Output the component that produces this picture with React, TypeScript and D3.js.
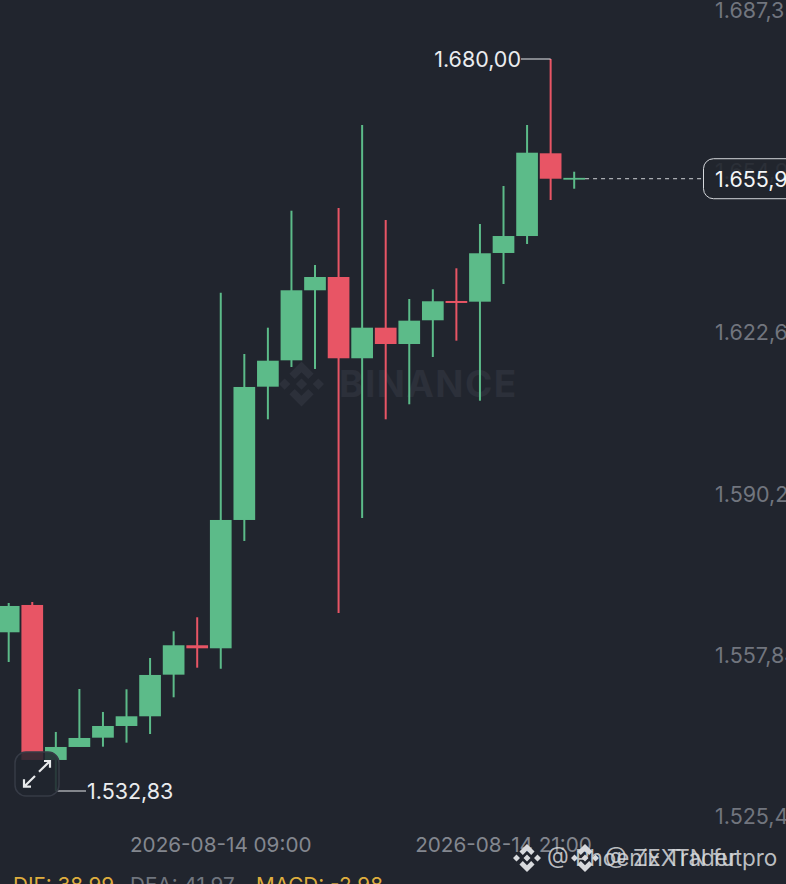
import * as d3 from "d3";
import { useEffect, useRef } from "react";

const opens = [1564.74, 1570.23, 1539.07, 1541.68, 1543.55, 1545.9, 1547.85, 1556.22, 1562.13, 1561.52, 1587.32, 1614.12, 1619.42, 1633.5, 1636.17, 1619.83, 1625.98, 1622.7, 1627.47, 1631.35, 1631.21, 1641.0, 1644.41, 1661.04, 1655.9];
const closes = [1570.03, 1539.07, 1541.68, 1543.49, 1545.9, 1547.85, 1556.16, 1562.13, 1561.52, 1587.32, 1614.06, 1619.34, 1633.5, 1636.17, 1619.83, 1625.98, 1622.7, 1627.39, 1631.29, 1630.95, 1640.94, 1644.41, 1661.16, 1655.93, 1656.1];
const highs = [1570.63, 1570.83, 1544.7, 1553.34, 1548.72, 1553.28, 1559.57, 1564.94, 1567.76, 1633.02, 1620.69, 1625.98, 1649.5, 1638.58, 1650.04, 1666.73, 1647.63, 1631.75, 1633.7, 1637.92, 1646.83, 1654.47, 1666.73, 1680.0, 1657.34];
const lows = [1558.77, 1539.07, 1532.83, 1541.68, 1541.74, 1542.55, 1544.29, 1551.67, 1557.62, 1557.42, 1583.1, 1607.56, 1618.08, 1617.68, 1568.62, 1587.72, 1607.56, 1610.58, 1620.09, 1623.37, 1611.3, 1634.76, 1642.81, 1651.65, 1653.92];
const priceTicks = [1687.35, 1654.97, 1622.6, 1590.22, 1557.84, 1525.46];
const timeLabels = [
  { index: 9, label: "2026-08-14 09:00" },
  { index: 21, label: "2026-08-14 21:00" },
];
const indicators = [
  { label: "DIF: 38,99", color: "#dfae3e", x: 13 },
  { label: "DEA: 41,97", color: "#70757e", x: 130 },
  { label: "MACD: -2,98", color: "#dfae3e", x: 256 },
];
const authors = [
  { x: 527, label: "@ Phoenix Trader" },
  { x: 585, label: "@ ZEXTN futpro" },
];
const highestPrice = 1680.0;
const lowestPrice = 1532.83;
const lastPrice = 1655.93;

const BG = "#21252e";
const UP = "#5cbb89";
const DOWN = "#e85565";
const FONT = "Inter, 'Noto Sans', sans-serif";
const fmt = d3.formatLocale({ decimal: ",", thousands: ".", grouping: [3], currency: ["", ""] }).format(",.2f");

// four-diamond logo, centred on 0,0
function addLogo(g: d3.Selection<SVGGElement, unknown, null, undefined>, size: number, fill: string) {
  const s = size / 2;
  const path = [
    `M0,${-s} L${s * 0.54},${-s * 0.46} L${s * 0.3},${-s * 0.22} L0,${-s * 0.52} L${-s * 0.3},${-s * 0.22} L${-s * 0.54},${-s * 0.46} Z`,
    `M0,${s} L${s * 0.54},${s * 0.46} L${s * 0.3},${s * 0.22} L0,${s * 0.52} L${-s * 0.3},${s * 0.22} L${-s * 0.54},${s * 0.46} Z`,
    `M0,${-s * 0.25} L${s * 0.25},0 L0,${s * 0.25} L${-s * 0.25},0 Z`,
    `M${-s},0 L${-s * 0.75},${-s * 0.25} L${-s * 0.5},0 L${-s * 0.75},${s * 0.25} Z`,
    `M${s},0 L${s * 0.75},${-s * 0.25} L${s * 0.5},0 L${s * 0.75},${s * 0.25} Z`,
  ].join(" ");
  g.append("path").attr("d", path).attr("fill", fill);
}

export default function App() {
  const svgRef = useRef<SVGSVGElement>(null);

  useEffect(() => {
    if (!svgRef.current) return;
    const width = 786;
    const height = 884;
    const svg = d3.select(svgRef.current);
    svg.selectAll("*").remove();

    const x = d3.scaleLinear().domain([0, opens.length - 1]).range([8.7, 574.2]);
    const y = d3.scaleLinear().domain([highestPrice, lowestPrice]).range([59, 791]);
    const bodyW = 21.7;

    svg.append("rect").attr("width", width).attr("height", height).attr("fill", BG);

    // Watermark
    const wm = svg.append("g").attr("transform", "translate(301.5,384)");
    addLogo(wm, 45, "#2c303a");
    svg
      .append("text")
      .attr("x", 339)
      .attr("y", 397)
      .attr("font-family", FONT)
      .attr("font-weight", 700)
      .attr("font-size", 37)
      .attr("letter-spacing", 1.4)
      .attr("fill", "#2c303a")
      .text("BINANCE");

    // Price axis labels
    svg
      .selectAll(".tick-label")
      .data(priceTicks)
      .enter()
      .append("text")
      .attr("class", "tick-label")
      .attr("x", 715)
      .attr("y", (d) => y(d) - 4)
      .attr("font-family", FONT)
      .attr("font-size", 21.5)
      .attr("fill", "#71757e")
      .text((d) => fmt(d));

    // Candles
    const candles = svg
      .selectAll(".candle")
      .data(opens.map((o, i) => ({ i, o, c: closes[i], h: highs[i], l: lows[i] })))
      .enter()
      .append("g")
      .attr("class", "candle");

    candles
      .append("line")
      .attr("x1", (d) => x(d.i))
      .attr("x2", (d) => x(d.i))
      .attr("y1", (d) => y(d.h))
      .attr("y2", (d) => y(d.l))
      .attr("stroke", (d) => (d.c >= d.o ? UP : DOWN))
      .attr("stroke-width", 2);

    candles
      .append("rect")
      .attr("x", (d) => x(d.i) - bodyW / 2)
      .attr("width", bodyW)
      .attr("y", (d) => y(Math.max(d.o, d.c)))
      .attr("height", (d) => Math.max(1.8, Math.abs(y(d.o) - y(d.c))))
      .attr("fill", (d) => (d.c >= d.o ? UP : DOWN));

    // High / low callouts
    const hiIdx = highs.indexOf(highestPrice);
    svg
      .append("line")
      .attr("x1", 521)
      .attr("x2", x(hiIdx))
      .attr("y1", y(highestPrice))
      .attr("y2", y(highestPrice))
      .attr("stroke", "#e6e8ea")
      .attr("stroke-width", 1);
    svg
      .append("text")
      .attr("x", 521)
      .attr("y", y(highestPrice) + 8)
      .attr("text-anchor", "end")
      .attr("font-family", FONT)
      .attr("font-size", 21.5)
      .attr("fill", "#eaecef")
      .text(fmt(highestPrice));

    const loIdx = lows.indexOf(lowestPrice);
    svg
      .append("line")
      .attr("x1", x(loIdx))
      .attr("x2", 86)
      .attr("y1", y(lowestPrice))
      .attr("y2", y(lowestPrice))
      .attr("stroke", "#e6e8ea")
      .attr("stroke-width", 1);
    svg
      .append("text")
      .attr("x", 87)
      .attr("y", y(lowestPrice) + 8)
      .attr("font-family", FONT)
      .attr("font-size", 21.5)
      .attr("fill", "#eaecef")
      .text(fmt(lowestPrice));

    // Last price line and box
    const lastY = y(lastPrice);
    svg
      .append("line")
      .attr("x1", x(opens.length - 1) + bodyW / 2)
      .attr("x2", 703)
      .attr("y1", lastY)
      .attr("y2", lastY)
      .attr("stroke", "#d0d3d6")
      .attr("stroke-width", 1)
      .attr("stroke-dasharray", "4 4");
    svg
      .append("rect")
      .attr("x", 703.5)
      .attr("y", lastY - 20)
      .attr("width", 110)
      .attr("height", 40)
      .attr("rx", 10)
      .attr("fill", BG)
      .attr("fill-opacity", 0.88)
      .attr("stroke", "#d5d8dc")
      .attr("stroke-width", 1);
    svg
      .append("text")
      .attr("x", 715)
      .attr("y", lastY + 8)
      .attr("font-family", FONT)
      .attr("font-size", 21.5)
      .attr("fill", "#f4f5f6")
      .text(fmt(lastPrice));

    // Expand button
    const btn = svg.append("g").attr("transform", "translate(37,774)");
    btn
      .append("rect")
      .attr("x", -22)
      .attr("y", -22)
      .attr("width", 44)
      .attr("height", 44)
      .attr("rx", 11)
      .attr("fill", BG)
      .attr("fill-opacity", 0.86)
      .attr("stroke", "#363b46")
      .attr("stroke-width", 1.5);
    btn
      .append("path")
      .attr("d", "M2,-2.3 L13,-13 M7,-13 L13,-13 L13,-6.3 M-2,2 L-13,12.7 M-13,5.3 L-13,12.7 L-6,12.7")
      .attr("fill", "none")
      .attr("stroke", "#e8eaec")
      .attr("stroke-width", 2.2);

    // Time labels
    svg
      .selectAll(".time-label")
      .data(timeLabels)
      .enter()
      .append("text")
      .attr("class", "time-label")
      .attr("x", (d) => x(d.index))
      .attr("y", 852)
      .attr("text-anchor", "middle")
      .attr("font-family", FONT)
      .attr("font-size", 20.7)
      .attr("fill", "#83878f")
      .text((d) => d.label);

    // Indicator row, cut by the bottom edge
    svg
      .selectAll(".indicator")
      .data(indicators)
      .enter()
      .append("text")
      .attr("class", "indicator")
      .attr("x", (d) => d.x)
      .attr("y", 892)
      .attr("font-family", FONT)
      .attr("font-size", 20.7)
      .attr("fill", (d) => d.color)
      .text((d) => d.label);

    // Two overlapping author watermarks
    authors.forEach((w) => {
      const g = svg.append("g").attr("transform", `translate(${w.x},858)`);
      addLogo(g, 28, "#d8dadd");
      svg
        .append("text")
        .attr("x", w.x + 20)
        .attr("y", 866)
        .attr("font-family", FONT)
        .attr("font-size", 22.5)
        .attr("fill", "#d8dadd")
        .attr("fill-opacity", 0.85)
        .text(w.label);
    });
  }, []);

  return (
    <svg
      ref={svgRef}
      width={786}
      height={884}
      style={{ position: "fixed", left: 0, top: 0, display: "block" }}
    />
  );
}
